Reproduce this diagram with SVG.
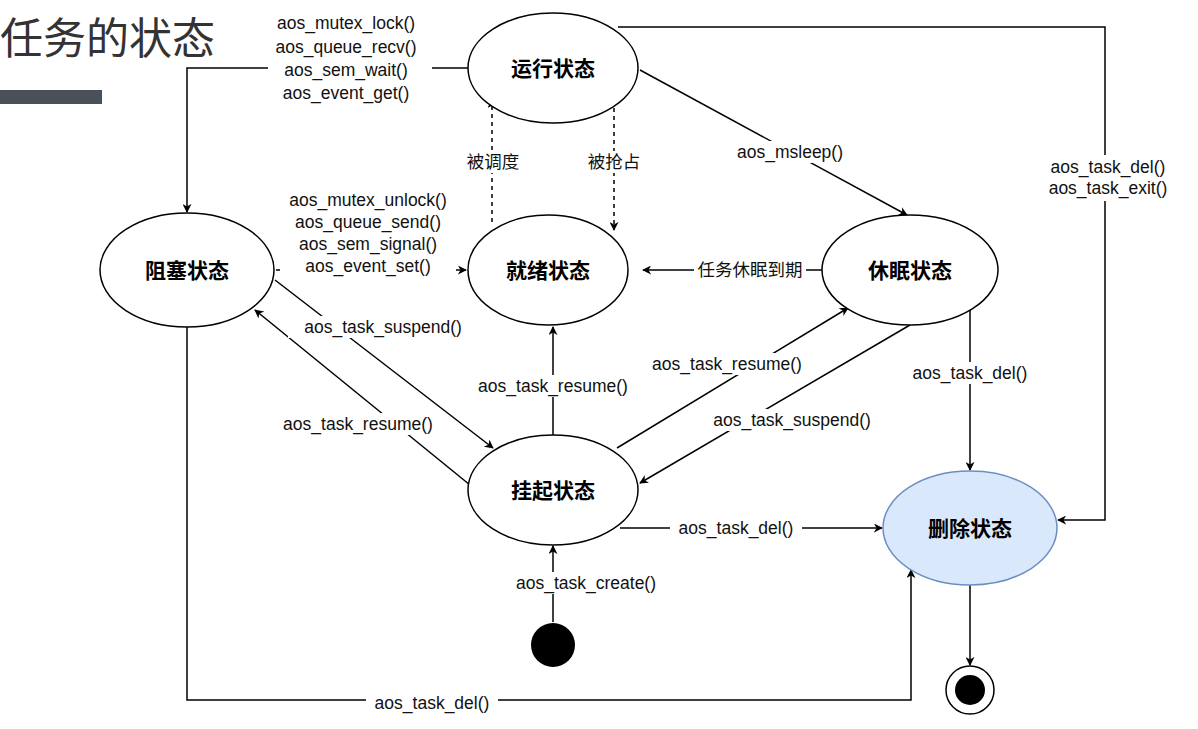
<svg xmlns="http://www.w3.org/2000/svg" width="1198" height="729" viewBox="0 0 1198 729">
<style>
.st{fill:#fff;stroke:#000;stroke-width:1.5}
.nl{font-family:"Liberation Sans","Noto Sans CJK SC",sans-serif;font-size:21px;font-weight:bold;text-anchor:middle;dominant-baseline:central}
.l{font-family:"Liberation Sans","Noto Sans CJK SC",sans-serif;font-size:17.5px;text-anchor:middle;dominant-baseline:central;fill:#111}
.c{fill:none;stroke:#000;stroke-width:1.5;marker-end:url(#a)}
.d{stroke-dasharray:4 4}
.bg{fill:#fff}
</style>
<defs><marker id="a" viewBox="0 0 10 10" refX="9" refY="5" markerWidth="9" markerHeight="9" markerUnits="userSpaceOnUse" orient="auto"><path d="M0,0L10,5L0,10L3,5z" fill="#000"/></marker></defs>
<rect width="1198" height="729" fill="#fff"/>
<text x="0" y="54" font-family="'Noto Sans CJK SC',sans-serif" font-size="43" fill="#333">任务的状态</text>
<rect x="0" y="90" width="102" height="14" fill="#4a5058"/>
<g id="connectors">
<path class="c" d="M468,68H187V212"/>
<path class="c" d="M618,27H1105V520H1058"/>
<path class="c" d="M640,70L907,215"/>
<path class="c d" d="M492,222V100"/>
<path class="c d" d="M614,108V230"/>
<path class="c" d="M276,270H466"/>
<path class="c" d="M822,270H643"/>
<path class="c" d="M275,280L493,448"/>
<path class="c" d="M470,485L255,310"/>
<path class="c" d="M553,435V327"/>
<path class="c" d="M617,448L848,308"/>
<path class="c" d="M910,325L640,483"/>
<path class="c" d="M970,310V470"/>
<path class="c" d="M620,528H882"/>
<path class="c" d="M553,622V546"/>
<path class="c" d="M187,327V700H911V570"/>
<path class="c" d="M970,585V665"/>
<rect class="bg" x="268" y="11" width="164" height="94"/>
<text class="l" x="346" y="23">aos_mutex_lock()</text>
<text class="l" x="346" y="47">aos_queue_recv()</text>
<text class="l" x="346" y="70">aos_sem_wait()</text>
<text class="l" x="346" y="93">aos_event_get()</text>
<rect class="bg" x="1038" y="155" width="140" height="46"/>
<text class="l" x="1108" y="167">aos_task_del()</text>
<text class="l" x="1108" y="188">aos_task_exit()</text>
<rect class="bg" x="728" y="141" width="124" height="22"/>
<text class="l" x="790" y="152">aos_msleep()</text>
<rect class="bg" x="464" y="151" width="58" height="22"/>
<text class="l" x="493" y="162">被调度</text>
<rect class="bg" x="585" y="151" width="58" height="22"/>
<text class="l" x="614" y="162">被抢占</text>
<rect class="bg" x="280" y="187" width="176" height="91"/>
<text class="l" x="368" y="200">aos_mutex_unlock()</text>
<text class="l" x="368" y="222">aos_queue_send()</text>
<text class="l" x="368" y="244">aos_sem_signal()</text>
<text class="l" x="368" y="266">aos_event_set()</text>
<rect class="bg" x="694" y="259" width="112" height="22"/>
<text class="l" x="750" y="270">任务休眠到期</text>
<rect class="bg" x="288" y="316" width="190" height="22"/>
<text class="l" x="383" y="327">aos_task_suspend()</text>
<rect class="bg" x="276" y="413" width="164" height="22"/>
<text class="l" x="358" y="424">aos_task_resume()</text>
<rect class="bg" x="470" y="375" width="166" height="22"/>
<text class="l" x="553" y="386">aos_task_resume()</text>
<rect class="bg" x="644" y="353" width="166" height="22"/>
<text class="l" x="727" y="364">aos_task_resume()</text>
<rect class="bg" x="700" y="409" width="184" height="22"/>
<text class="l" x="792" y="420">aos_task_suspend()</text>
<rect class="bg" x="904" y="362" width="132" height="22"/>
<text class="l" x="970" y="373">aos_task_del()</text>
<rect class="bg" x="670" y="517" width="132" height="22"/>
<text class="l" x="736" y="528">aos_task_del()</text>
<rect class="bg" x="506" y="572" width="160" height="22"/>
<text class="l" x="586" y="583">aos_task_create()</text>
<rect class="bg" x="366" y="692" width="132" height="22"/>
<text class="l" x="432" y="703">aos_task_del()</text>
</g>
<g id="running"><ellipse class="st" cx="553" cy="68" rx="85" ry="55"/><text class="nl" x="553" y="68">运行状态</text></g>
<g id="ready"><ellipse class="st" cx="548" cy="270" rx="80" ry="55"/><text class="nl" x="548" y="270">就绪状态</text></g>
<g id="blocked"><ellipse class="st" cx="187" cy="270" rx="87" ry="57"/><text class="nl" x="187" y="270">阻塞状态</text></g>
<g id="sleep"><ellipse class="st" cx="910" cy="270" rx="88" ry="55"/><text class="nl" x="910" y="270">休眠状态</text></g>
<g id="suspended"><ellipse class="st" cx="553" cy="490" rx="85" ry="55"/><text class="nl" x="553" y="490">挂起状态</text></g>
<g id="deleted"><ellipse cx="970" cy="528" rx="87" ry="57" fill="#dae8fc" stroke="#6c8ebf" stroke-width="1.5"/><text class="nl" x="970" y="528">删除状态</text></g>
<g id="start"><circle cx="553" cy="645" r="22" fill="#000"/></g>
<g id="end"><circle cx="970" cy="690" r="24" fill="#fff" stroke="#000" stroke-width="1.5"/><circle cx="970" cy="690" r="15" fill="#000"/></g>
</svg>
